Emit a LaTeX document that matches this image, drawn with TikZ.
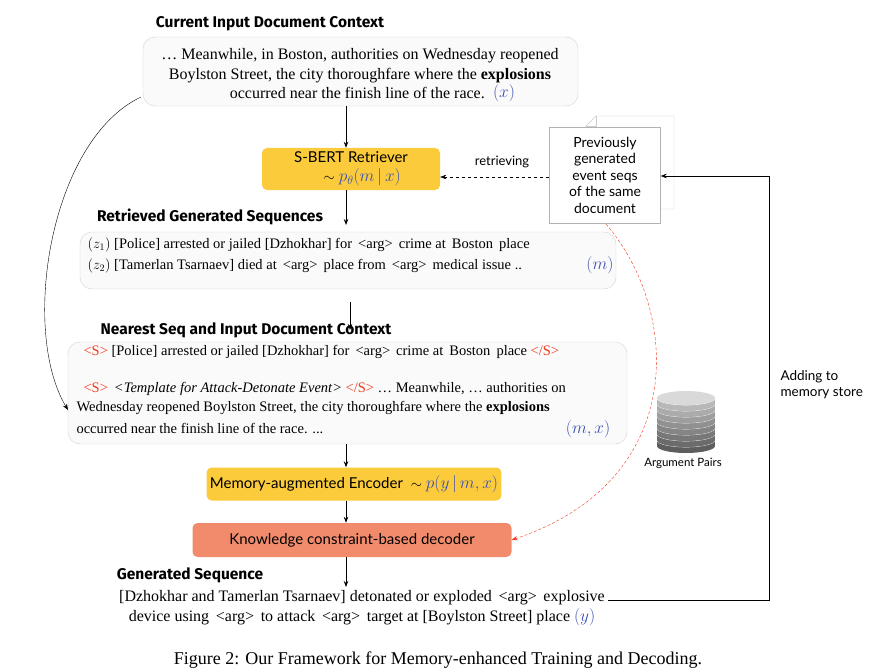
\documentclass[tikz,border=0pt]{standalone}
\usepackage{fontspec}
\setmainfont{Liberation Serif}
\newfontfamily\hd{Lato}
\newfontfamily\hb{Fira Sans}
\usetikzlibrary{arrows.meta,shapes.geometric}
\definecolor{ylw}{HTML}{FBCB3C}
\definecolor{sal}{HTML}{F28B6C}
\definecolor{bl}{HTML}{3B4FB0}
\definecolor{rd}{HTML}{F03A1E}
\newcommand{\bx}[1]{\textcolor{bl}{#1}}
\newcommand{\rs}[1]{\textcolor{rd}{#1}}
\begin{document}
\begin{tikzpicture}[x=1pt,y=-1pt,
 tl/.style={font=\hb\bfseries\fontsize{15.5}{17}\selectfont},
 txt/.style={font=\fontsize{14.5}{19.5}\selectfont},
 big/.style={font=\fontsize{16}{19.5}\selectfont},
 lab/.style={font=\fontsize{18}{20}\selectfont},
 card/.style={draw=gray!35,fill=gray!4,rounded corners=12pt},
 blk/.style={rounded corners=5pt,font=\hd\fontsize{15}{18}\selectfont,align=center},
 ar/.style={-{Stealth[length=6pt]},thick}]
\useasboundingbox (0,0) rectangle (877,671);
% box 1
\node[tl] (t1) at (270,24) {Current Input Document Context};
\draw[card] (143,37) rectangle (578,106);
\node[big,align=center] (x1) at (360,74) {… Meanwhile, in Boston, authorities on Wednesday reopened\\Boylston Street, the city thoroughfare where the \textbf{explosions}\\occurred near the finish line of the race. \hspace{5.5em}};
\node[lab] (xl) at (504,93) {\bx{$(x)$}};
\coordinate (b1) at (346,106);
% sbert
\node[blk,fill=ylw,minimum width=178pt,minimum height=42pt] (sb) at (351,169) {S-BERT Retriever\\[1pt]\hspace{1.5em}$\sim$ \bx{\fontsize{17}{18}\selectfont$p_\theta(m\,|\,x)$}};
\draw[ar] (b1) -- (sb.north -| b1);
% doc stack
\draw[gray!40,fill=white] (596,116) -- (674,116) -- (674,209) -- (586,209) -- (586,126) -- cycle;
\draw[gray!40] (586,126) -- (596,126) -- (596,116);
\node[draw=gray!60,fill=white,minimum width=111pt,minimum height=96pt,align=center,font=\hd\fontsize{14}{16.5}\selectfont] (doc) at (605,175) {Previously\\generated\\event seqs\\of the same\\document};
\draw[-{Stealth[length=6pt]},dashed] (doc.west |- 0,177) -- (sb.east |- 0,177);
\node[font=\hd\fontsize{13}{15}\selectfont] (rt) at (502,162) {retrieving};
% box 2
\node[tl] (t2) at (210,217) {Retrieved Generated Sequences};
\draw[ar] (sb.south -| b1) -- (346,225);
\draw[card] (80,232) rectangle (616,289);
\node[txt,anchor=west] (z1) at (84,245) {$(z_1)$ [Police] arrested or jailed [Dzhokhar] for \,<arg>\, crime at \,Boston\, place};
\node[txt,anchor=west] (z2) at (84,266) {$(z_2)$ [Tamerlan Tsarnaev] died at \,<arg>\, place from \,<arg>\, medical issue ..};
\node[lab] (ml) at (600,265) {\bx{$(m)$}};
% box 3
\coordinate (b2) at (350,302);
\draw[ar,semithick] (b2) -- (350,330);
\node[tl] (t3) at (246,330) {Nearest Seq and Input Document Context};
\draw[card] (68,342) rectangle (627,444);
\node[txt,anchor=west] (s1) at (80,352) {\rs{<S>} [Police] arrested or jailed [Dzhokhar] for \,<arg>\, crime at \,Boston\, place \rs{</S>}};
\node[txt,anchor=west] (s2) at (80,389) {\rs{<S>}\, \textit{<Template for Attack-Detonate Event>} \rs{</S>} … Meanwhile, … authorities on};
\node[txt,anchor=west] (s3) at (73,408) {Wednesday reopened Boylston Street, the city thoroughfare where the \textbf{explosions}};
\node[txt,anchor=west] (s4) at (73,428) {occurred near the finish line of the race. ...};
\node[lab] (mx) at (588,429) {\bx{$(m,x)$}};
\draw[-{Stealth[length=6pt]}] (141,97) .. controls (50,140) and (20,330) .. (68,410);
% encoder
\node[blk,fill=ylw,minimum width=292pt,minimum height=33pt] (enc) at (354,484) {Memory-augmented Encoder \;$\sim$ \bx{\fontsize{17}{18}\selectfont$p(y\,|\,m,x)$}};
\draw[ar] (346,444) -- (enc.north -| 346,0);
\node[blk,fill=sal,minimum width=319pt,minimum height=34pt] (dec) at (352,540) {Knowledge constraint-based decoder};
\draw[ar] (enc.south -| 346,0) -- (dec.north -| 346,0);
\draw[rd,densely dashed,-{Stealth[length=6pt]}] (606,224) .. controls (680,310) and (690,480) .. (dec.east);
% cylinder
\foreach \i in {7,...,0}{
 \pgfmathsetmacro\g{28+\i*5}
 \fill[black!\g] (657,{398+\i*6}) rectangle (715,{404+\i*6});
 \fill[black!\g] (686,{404+\i*6}) ellipse (29pt and 7pt);
 \draw[white,semithick] (657,{398+\i*6}) arc (180:360:29pt and 7pt);
}
\fill[gray!30] (686,398) ellipse (29pt and 7pt);
\node[font=\hd\fontsize{11.5}{13}\selectfont] (ap) at (683,463) {Argument Pairs};
% output
\node[tl] (t4) at (190,575) {Generated Sequence};
\draw[ar] (dec.south -| 346,0) -- (346,587);
\node[big,align=center] (y1) at (362,608) {[Dzhokhar and Tamerlan Tsarnaev] detonated or exploded \,<arg>\, explosive\\device using \,<arg>\, to attack \,<arg>\, target at [Boylston Street] place \bx{\fontsize{17}{18}\selectfont$(y)$}};
\coordinate (c1) at (769,600);
\coordinate (c2) at (769,176);
\draw[ar,semithick] (608,600) -- (c1) -- (c2) -- (doc.east |- c2);
\node[font=\hd\fontsize{13.5}{16}\selectfont,align=left,anchor=west] (am) at (777,385) {Adding to\\memory store};
\node[font=\fontsize{18}{20}\selectfont] (cap) at (438,660) {Figure 2: Our Framework for Memory-enhanced Training and Decoding.};
\end{tikzpicture}
\end{document}
